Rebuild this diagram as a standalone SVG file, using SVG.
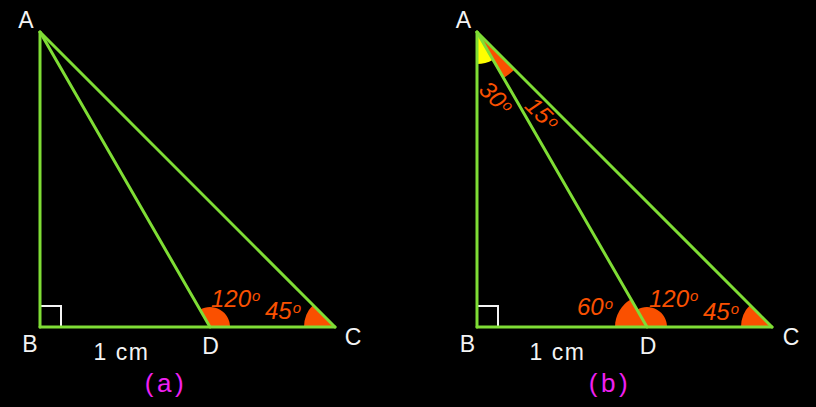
<svg xmlns="http://www.w3.org/2000/svg" width="816" height="407" viewBox="0 0 816 407">
<style>
.bg{fill:#000}
.ln{stroke:#7fdd35;stroke-width:3;fill:none;stroke-linecap:round;stroke-linejoin:round}
.sec{fill:#fa5000;stroke:none}
.yel{fill:#ffff00;stroke:none}
.sq{stroke:#f4f4f4;stroke-width:2;fill:none}
.lbl{font-family:"Liberation Sans",Arial,sans-serif;font-size:23px;fill:#f4f4f4;text-anchor:middle}
.ang{font-family:"Liberation Sans",Arial,sans-serif;font-size:24px;font-style:italic;fill:#fa5000}
.cap{font-family:"Liberation Sans",Arial,sans-serif;font-size:26px;fill:#f020f0;text-anchor:middle;letter-spacing:3.5px}
.sup{font-size:15px}
</style>
<rect class="bg" x="0" y="0" width="816" height="407"/>

<g id="figure-a">
  <g id="angles-a">
    <path class="sec" d="M210,327 L230,327 A20,20 0 0,0 200,309.68 Z"/>
    <path class="sec" d="M335,327 L304,327 A31,31 0 0,1 313.1,305.1 Z"/>
    <path class="sq" d="M40,306 H61 V327"/>
  </g>
  <g id="connectors-a">
    <line class="ln" x1="40" y1="32" x2="40" y2="327"/>
    <line class="ln" x1="40" y1="327" x2="335" y2="327"/>
    <line class="ln" x1="40" y1="32" x2="335" y2="327"/>
    <line class="ln" x1="40" y1="32" x2="210" y2="327"/>
  </g>
  <g id="node-A-a"><text class="lbl" x="26" y="28">A</text></g>
  <g id="node-B-a"><text class="lbl" x="30" y="352">B</text></g>
  <g id="node-D-a"><text class="lbl" x="210.5" y="354">D</text></g>
  <g id="node-C-a"><text class="lbl" x="353" y="345">C</text></g>
  <text class="lbl" x="121.5" y="360" letter-spacing="1.5">1 cm</text>
  <text class="ang" x="211" y="307">120<tspan class="sup" dx="1" dy="-6">o</tspan></text>
  <text class="ang" x="265" y="319">45<tspan class="sup" dx="1" dy="-6">o</tspan></text>
  <text class="cap" x="166" y="392">(a)</text>
</g>

<g id="figure-b">
  <g id="angles-b">
    <path class="sec" d="M647,327 L615,327 A32,32 0 0,1 631,299.3 Z"/>
    <path class="sec" d="M647,327 L667,327 A20,20 0 0,0 637,309.68 Z"/>
    <path class="sec" d="M772,327 L741,327 A31,31 0 0,1 750.1,305.1 Z"/>
    <path class="sec" d="M477,32 L503.5,77.9 A53,53 0 0,0 514.5,69.5 Z"/>
    <path class="yel" d="M477,32 L477,64 A32,32 0 0,0 493,59.7 Z"/>
    <path class="sq" d="M477,306 H498 V327"/>
  </g>
  <g id="connectors-b">
    <line class="ln" x1="477" y1="32" x2="477" y2="327"/>
    <line class="ln" x1="477" y1="327" x2="772" y2="327"/>
    <line class="ln" x1="477" y1="32" x2="772" y2="327"/>
    <line class="ln" x1="477" y1="32" x2="647" y2="327"/>
  </g>
  <g id="node-A-b"><text class="lbl" x="463.5" y="28">A</text></g>
  <g id="node-B-b"><text class="lbl" x="467.5" y="352">B</text></g>
  <g id="node-D-b"><text class="lbl" x="648" y="354">D</text></g>
  <g id="node-C-b"><text class="lbl" x="791" y="345">C</text></g>
  <text class="lbl" x="557.5" y="360" letter-spacing="1.5">1 cm</text>
  <text class="ang" x="577" y="315">60<tspan class="sup" dx="1" dy="-6">o</tspan></text>
  <text class="ang" x="649" y="307">120<tspan class="sup" dx="1" dy="-6">o</tspan></text>
  <text class="ang" x="703" y="320">45<tspan class="sup" dx="1" dy="-6">o</tspan></text>
  <text class="ang" transform="translate(496,98) rotate(45)" x="0" y="8" text-anchor="middle" font-size="23">30<tspan class="sup" dx="1" dy="-6">o</tspan></text>
  <text class="ang" transform="translate(542,114) rotate(45)" x="0" y="8" text-anchor="middle" font-size="23">15<tspan class="sup" dx="1" dy="-6">o</tspan></text>
  <text class="cap" x="610" y="392">(b)</text>
</g>
</svg>
